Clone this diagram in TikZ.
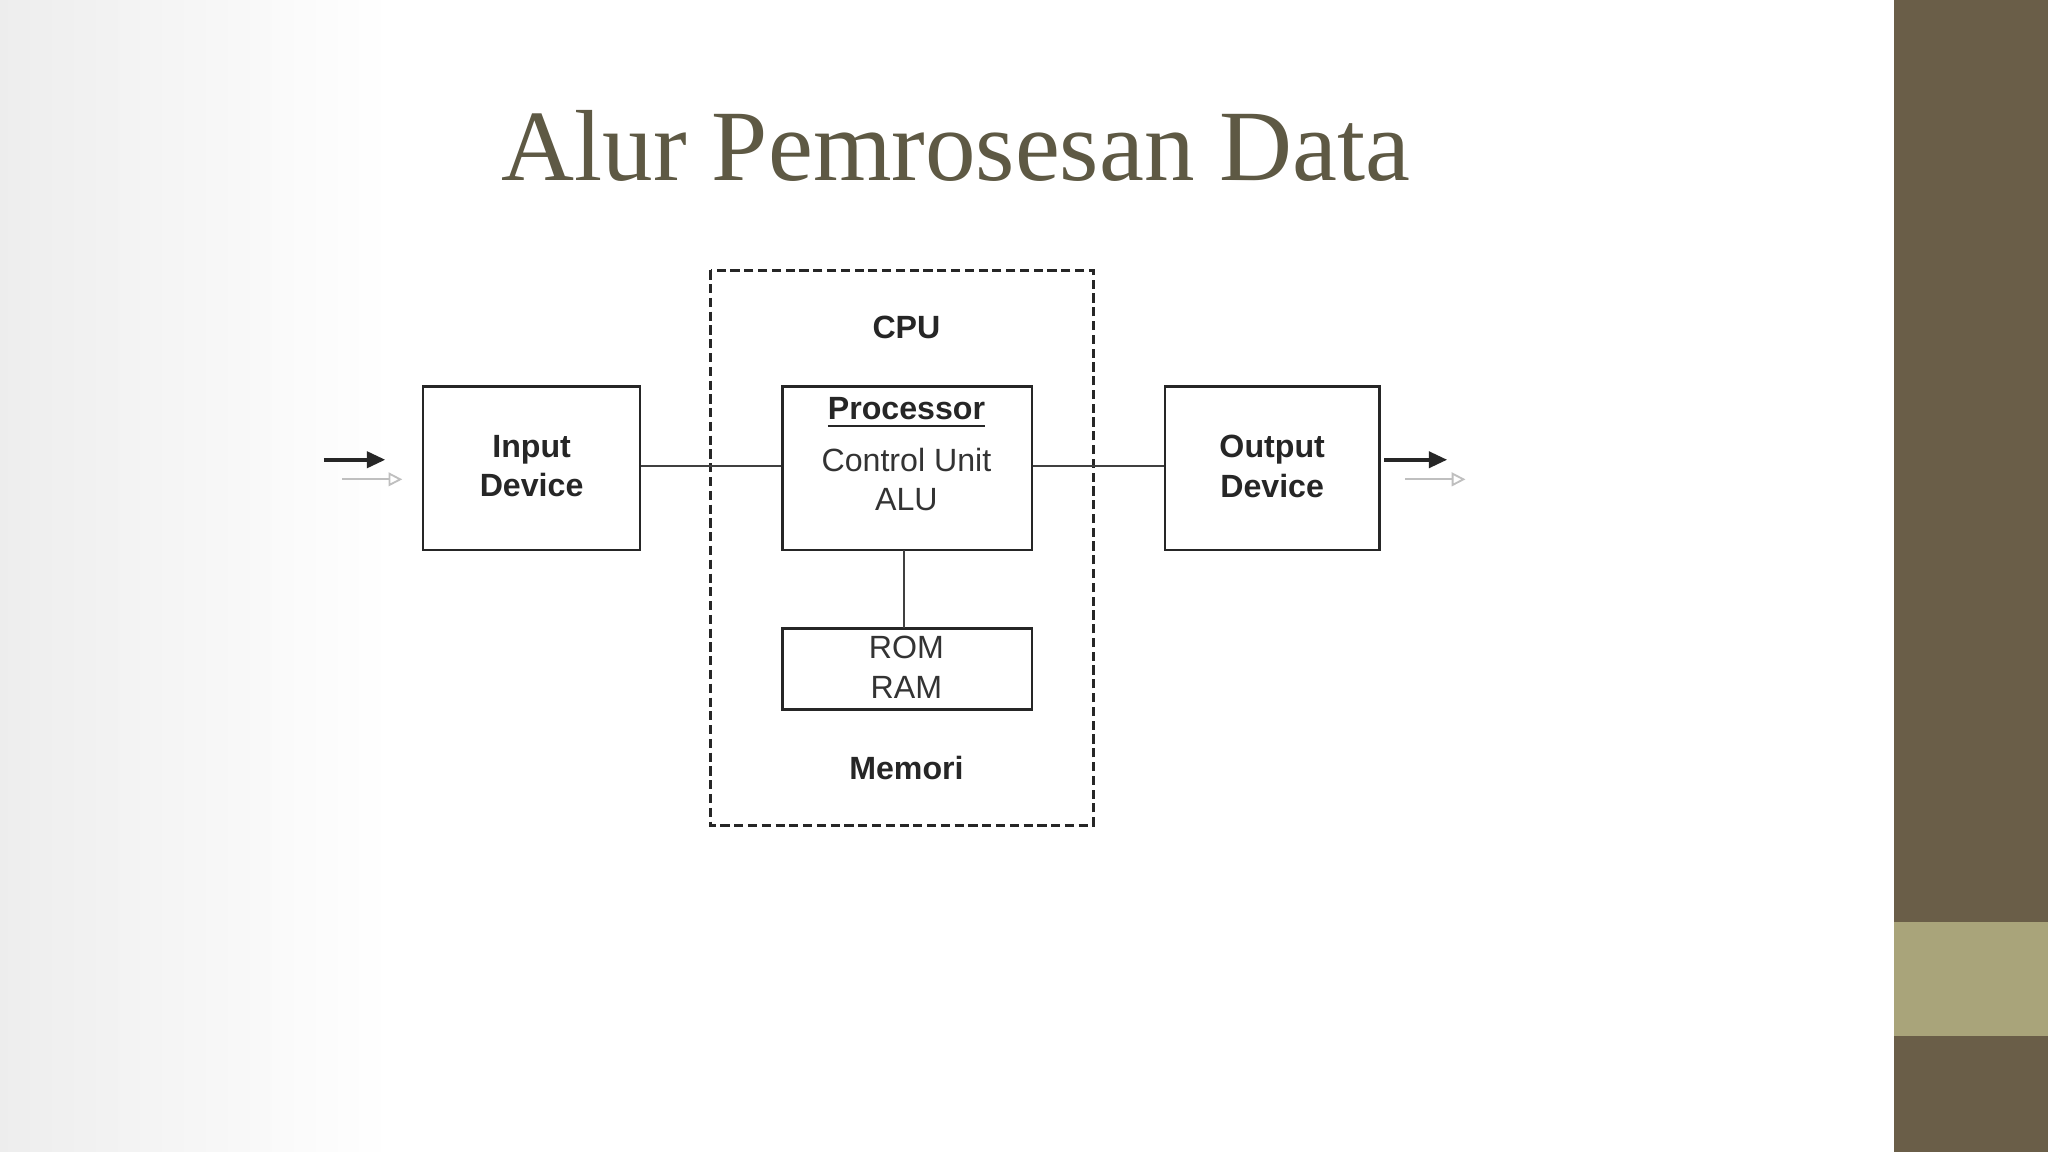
\documentclass[tikz,border=0pt]{standalone}
\usepackage{fontspec}
\setmainfont{Liberation Sans}
\newfontfamily\titlefont{Liberation Serif}
\usetikzlibrary{arrows.meta}
\definecolor{band}{HTML}{6A5E48}
\definecolor{bandlight}{HTML}{A9A47A}
\definecolor{titlec}{HTML}{5E5944}
\tikzset{x=0.01cm,y=-0.01cm,
 blk/.style={draw=black!85,line width=0.6pt,minimum width=#1},
 lbl/.style={font=\fontsize{7}{8.6}\selectfont,align=center,text=black!80},
 blbl/.style={font=\bfseries\fontsize{7}{8.6}\selectfont,align=center,text=black!85},
 wire/.style={draw=black!75,line width=0.5pt},
 arr/.style={-{Triangle[length=4pt,width=3.5pt]},line width=0.8pt,black!85},
 ghost/.style={-{Triangle[open,length=3pt,width=3pt]},line width=0.4pt,black!25}}
\begin{document}
\begin{tikzpicture}
\useasboundingbox (0,0) rectangle (1568,882);
\fill[white] (0,0) rectangle (1568,882);
\shade[left color=black!7,right color=white] (0,0) rectangle (300,882);
\fill[band] (1450,0) rectangle (1568,882);
\fill[bandlight] (1450,706) rectangle (1568,793);
\node[text=titlec,font=\titlefont\fontsize{22}{26}\selectfont] (title) at (732,112) {Alur Pemrosesan Data};
\draw[dashed,line width=0.7pt,black!85,dash pattern=on 2pt off 1pt] (544,207) rectangle (837,632);
\node[blk=1.66cm,minimum height=1.25cm] (in) at (407,358.5) {};
\node[blbl] at (407,357) {Input\\Device};
\node[blk=1.64cm,minimum height=1.25cm] (out) at (974,358.5) {};
\node[blbl] at (974,357) {Output\\Device};
\node[blk=1.91cm,minimum height=1.25cm] (proc) at (694.5,358.5) {};
\node[blbl] at (694,316) {\underline{Processor}};
\node[lbl] at (694,367) {Control Unit\\ALU};
\node[blk=1.91cm,minimum height=0.62cm] (mem) at (694.5,512) {};
\node[lbl] at (694,511) {ROM\\RAM};
\node[blbl] (cpu) at (694,251) {CPU};
\node[blbl] (memori) at (694,588) {Memori};
\draw[wire] (in.east|-0,357) -- (proc.west|-0,357);
\draw[wire] (proc.east|-0,357) -- (out.west|-0,357);
\draw[wire] (692,421) -- (692,481);
\coordinate (a1) at (248,352); \coordinate (a2) at (295,352);
\coordinate (b1) at (1060,352); \coordinate (b2) at (1108,352);
\draw[arr] (a1) -- (a2);
\draw[arr] (b1) -- (b2);
\draw[ghost] (262,367) -- (308,367);
\draw[ghost] (1076,367) -- (1122,367);
\end{tikzpicture}
\end{document}
